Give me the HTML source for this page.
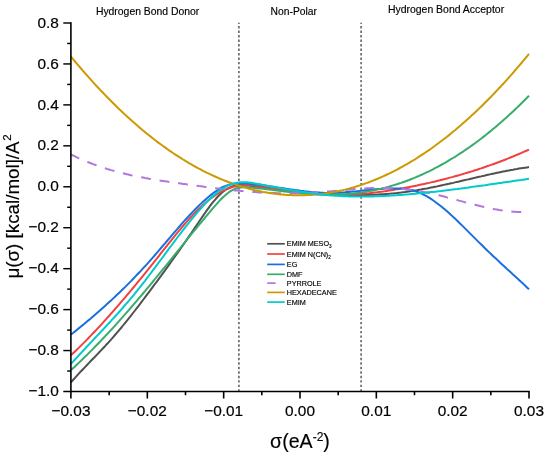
<!DOCTYPE html>
<html><head><meta charset="utf-8"><title>Sigma potential</title>
<style>html,body{margin:0;padding:0;background:#fff}svg{display:block}</style></head>
<body>
<svg width="550" height="456" viewBox="0 0 550 456">
<rect width="550" height="456" fill="#fff"/>
<line x1="238.9" y1="22.8" x2="238.9" y2="391.5" stroke="#5a5a5a" stroke-width="1.5" stroke-dasharray="2.4 2.0825" stroke-dashoffset="1.18"/>
<line x1="361.1" y1="22.8" x2="361.1" y2="391.5" stroke="#5a5a5a" stroke-width="1.5" stroke-dasharray="2.4 2.0825" stroke-dashoffset="1.18"/>
<g fill="none" stroke-width="2.0" stroke-linejoin="round">
<path d="M71.0,382.3 L73.0,380.0 L75.0,377.8 L77.0,375.6 L79.0,373.4 L81.0,371.3 L83.0,369.2 L85.0,367.1 L87.0,365.0 L89.0,362.9 L91.0,360.8 L93.0,358.7 L95.0,356.7 L97.0,354.6 L99.0,352.5 L101.0,350.4 L103.0,348.3 L105.0,346.2 L107.0,344.0 L109.0,341.8 L111.0,339.6 L113.0,337.3 L115.0,335.0 L117.0,332.7 L119.0,330.4 L121.0,328.0 L123.0,325.5 L125.0,323.1 L127.0,320.6 L129.0,318.1 L131.0,315.6 L133.0,313.0 L135.0,310.5 L137.0,307.9 L139.0,305.3 L141.0,302.7 L143.0,300.0 L145.0,297.4 L147.0,294.7 L149.0,292.1 L151.0,289.4 L153.0,286.7 L155.0,284.0 L157.0,281.3 L159.0,278.6 L161.0,275.9 L163.0,273.1 L165.0,270.4 L167.0,267.6 L169.0,264.8 L171.0,262.0 L173.0,259.2 L175.0,256.4 L177.0,253.6 L179.0,250.8 L181.0,247.9 L183.0,245.1 L185.0,242.2 L187.0,239.3 L189.0,236.4 L191.0,233.5 L193.0,230.6 L195.0,227.6 L197.0,224.7 L199.0,221.7 L201.0,218.8 L203.0,215.9 L205.0,213.0 L207.0,210.1 L209.0,207.4 L211.0,204.7 L213.0,202.2 L215.0,199.8 L217.0,197.5 L219.0,195.4 L221.0,193.5 L223.0,191.7 L225.0,190.2 L227.0,189.0 L229.0,187.9 L231.0,187.0 L233.0,186.3 L235.0,185.8 L237.0,185.5 L239.0,185.3 L241.0,185.2 L243.0,185.2 L245.0,185.2 L247.0,185.4 L249.0,185.6 L251.0,185.9 L253.0,186.2 L255.0,186.4 L257.0,186.7 L259.0,187.0 L261.0,187.3 L263.0,187.6 L265.0,187.8 L267.0,188.1 L269.0,188.4 L271.0,188.6 L273.0,188.9 L275.0,189.1 L277.0,189.4 L279.0,189.6 L281.0,189.9 L283.0,190.1 L285.0,190.4 L287.0,190.6 L289.0,190.8 L291.0,191.1 L293.0,191.3 L295.0,191.5 L297.0,191.7 L299.0,191.9 L301.0,192.1 L303.0,192.3 L305.0,192.5 L307.0,192.7 L309.0,192.9 L311.0,193.0 L313.0,193.2 L315.0,193.4 L317.0,193.5 L319.0,193.7 L321.0,193.8 L323.0,194.0 L325.0,194.1 L327.0,194.2 L329.0,194.3 L331.0,194.4 L333.0,194.5 L335.0,194.6 L337.0,194.7 L339.0,194.8 L341.0,194.8 L343.0,194.9 L345.0,195.0 L347.0,195.0 L349.0,195.0 L351.0,195.1 L353.0,195.1 L355.0,195.1 L357.0,195.1 L359.0,195.1 L361.0,195.1 L363.0,195.0 L365.0,195.0 L367.0,194.9 L369.0,194.9 L371.0,194.8 L373.0,194.7 L375.0,194.7 L377.0,194.6 L379.0,194.4 L381.0,194.3 L383.0,194.2 L385.0,194.1 L387.0,193.9 L389.0,193.7 L391.0,193.6 L393.0,193.4 L395.0,193.2 L397.0,193.0 L399.0,192.7 L401.0,192.5 L403.0,192.2 L405.0,192.0 L407.0,191.7 L409.0,191.4 L411.0,191.1 L413.0,190.8 L415.0,190.5 L417.0,190.2 L419.0,189.8 L421.0,189.5 L423.0,189.1 L425.0,188.7 L427.0,188.4 L429.0,188.0 L431.0,187.6 L433.0,187.2 L435.0,186.8 L437.0,186.4 L439.0,185.9 L441.0,185.5 L443.0,185.1 L445.0,184.6 L447.0,184.2 L449.0,183.8 L451.0,183.3 L453.0,182.9 L455.0,182.4 L457.0,181.9 L459.0,181.5 L461.0,181.0 L463.0,180.5 L465.0,180.1 L467.0,179.6 L469.0,179.2 L471.0,178.7 L473.0,178.2 L475.0,177.8 L477.0,177.3 L479.0,176.8 L481.0,176.4 L483.0,175.9 L485.0,175.5 L487.0,175.0 L489.0,174.6 L491.0,174.1 L493.0,173.7 L495.0,173.3 L497.0,172.8 L499.0,172.4 L501.0,172.0 L503.0,171.6 L505.0,171.2 L507.0,170.8 L509.0,170.4 L511.0,170.0 L513.0,169.7 L515.0,169.3 L517.0,169.0 L519.0,168.6 L521.0,168.3 L523.0,168.0 L525.0,167.7 L527.0,167.4 L529.0,167.1" stroke="#515151"/>
<path d="M71.0,355.2 L73.0,353.3 L75.0,351.4 L77.0,349.5 L79.0,347.6 L81.0,345.6 L83.0,343.6 L85.0,341.6 L87.0,339.6 L89.0,337.5 L91.0,335.4 L93.0,333.3 L95.0,331.2 L97.0,329.1 L99.0,327.0 L101.0,324.8 L103.0,322.6 L105.0,320.4 L107.0,318.2 L109.0,316.0 L111.0,313.7 L113.0,311.5 L115.0,309.2 L117.0,306.9 L119.0,304.6 L121.0,302.2 L123.0,299.9 L125.0,297.6 L127.0,295.2 L129.0,292.8 L131.0,290.4 L133.0,288.0 L135.0,285.6 L137.0,283.2 L139.0,280.7 L141.0,278.3 L143.0,275.8 L145.0,273.3 L147.0,270.8 L149.0,268.4 L151.0,265.9 L153.0,263.3 L155.0,260.8 L157.0,258.3 L159.0,255.8 L161.0,253.2 L163.0,250.7 L165.0,248.1 L167.0,245.6 L169.0,243.1 L171.0,240.6 L173.0,238.1 L175.0,235.6 L177.0,233.2 L179.0,230.8 L181.0,228.4 L183.0,226.0 L185.0,223.7 L187.0,221.4 L189.0,219.2 L191.0,217.0 L193.0,214.9 L195.0,212.8 L197.0,210.7 L199.0,208.8 L201.0,206.9 L203.0,205.0 L205.0,203.2 L207.0,201.5 L209.0,199.9 L211.0,198.3 L213.0,196.9 L215.0,195.5 L217.0,194.2 L219.0,193.0 L221.0,191.8 L223.0,190.8 L225.0,189.8 L227.0,188.9 L229.0,188.2 L231.0,187.5 L233.0,186.9 L235.0,186.4 L237.0,186.0 L239.0,185.7 L241.0,185.5 L243.0,185.3 L245.0,185.2 L247.0,185.2 L249.0,185.3 L251.0,185.4 L253.0,185.6 L255.0,185.8 L257.0,186.1 L259.0,186.3 L261.0,186.7 L263.0,187.0 L265.0,187.3 L267.0,187.7 L269.0,188.0 L271.0,188.4 L273.0,188.7 L275.0,189.1 L277.0,189.4 L279.0,189.7 L281.0,190.0 L283.0,190.3 L285.0,190.6 L287.0,190.9 L289.0,191.2 L291.0,191.4 L293.0,191.7 L295.0,191.9 L297.0,192.2 L299.0,192.4 L301.0,192.6 L303.0,192.8 L305.0,193.0 L307.0,193.2 L309.0,193.4 L311.0,193.5 L313.0,193.7 L315.0,193.8 L317.0,194.0 L319.0,194.1 L321.0,194.2 L323.0,194.3 L325.0,194.4 L327.0,194.5 L329.0,194.5 L331.0,194.6 L333.0,194.6 L335.0,194.7 L337.0,194.7 L339.0,194.7 L341.0,194.7 L343.0,194.7 L345.0,194.6 L347.0,194.6 L349.0,194.5 L351.0,194.4 L353.0,194.3 L355.0,194.2 L357.0,194.1 L359.0,194.0 L361.0,193.9 L363.0,193.7 L365.0,193.5 L367.0,193.4 L369.0,193.2 L371.0,192.9 L373.0,192.7 L375.0,192.5 L377.0,192.3 L379.0,192.0 L381.0,191.7 L383.0,191.5 L385.0,191.2 L387.0,190.9 L389.0,190.6 L391.0,190.2 L393.0,189.9 L395.0,189.6 L397.0,189.3 L399.0,188.9 L401.0,188.5 L403.0,188.2 L405.0,187.8 L407.0,187.4 L409.0,187.1 L411.0,186.7 L413.0,186.3 L415.0,185.9 L417.0,185.5 L419.0,185.0 L421.0,184.6 L423.0,184.2 L425.0,183.8 L427.0,183.3 L429.0,182.9 L431.0,182.4 L433.0,181.9 L435.0,181.5 L437.0,181.0 L439.0,180.5 L441.0,180.0 L443.0,179.5 L445.0,179.0 L447.0,178.5 L449.0,177.9 L451.0,177.4 L453.0,176.9 L455.0,176.3 L457.0,175.7 L459.0,175.2 L461.0,174.6 L463.0,174.0 L465.0,173.4 L467.0,172.8 L469.0,172.2 L471.0,171.6 L473.0,171.0 L475.0,170.3 L477.0,169.7 L479.0,169.0 L481.0,168.4 L483.0,167.7 L485.0,167.0 L487.0,166.3 L489.0,165.6 L491.0,164.9 L493.0,164.2 L495.0,163.5 L497.0,162.7 L499.0,162.0 L501.0,161.2 L503.0,160.5 L505.0,159.7 L507.0,158.9 L509.0,158.1 L511.0,157.3 L513.0,156.5 L515.0,155.6 L517.0,154.8 L519.0,154.0 L521.0,153.1 L523.0,152.2 L525.0,151.3 L527.0,150.5 L529.0,149.6" stroke="#F14040"/>
<path d="M71.0,334.5 L73.0,333.0 L75.0,331.4 L77.0,329.7 L79.0,328.1 L81.0,326.5 L83.0,324.9 L85.0,323.2 L87.0,321.5 L89.0,319.9 L91.0,318.2 L93.0,316.5 L95.0,314.7 L97.0,313.0 L99.0,311.3 L101.0,309.5 L103.0,307.7 L105.0,305.9 L107.0,304.1 L109.0,302.3 L111.0,300.5 L113.0,298.6 L115.0,296.7 L117.0,294.8 L119.0,292.9 L121.0,291.0 L123.0,289.0 L125.0,287.1 L127.0,285.1 L129.0,283.1 L131.0,281.1 L133.0,279.0 L135.0,276.9 L137.0,274.8 L139.0,272.7 L141.0,270.6 L143.0,268.4 L145.0,266.3 L147.0,264.1 L149.0,261.8 L151.0,259.6 L153.0,257.3 L155.0,255.0 L157.0,252.7 L159.0,250.4 L161.0,248.0 L163.0,245.7 L165.0,243.3 L167.0,241.0 L169.0,238.6 L171.0,236.3 L173.0,233.9 L175.0,231.6 L177.0,229.3 L179.0,227.0 L181.0,224.7 L183.0,222.4 L185.0,220.2 L187.0,218.0 L189.0,215.8 L191.0,213.7 L193.0,211.6 L195.0,209.5 L197.0,207.5 L199.0,205.5 L201.0,203.6 L203.0,201.7 L205.0,199.9 L207.0,198.2 L209.0,196.5 L211.0,194.9 L213.0,193.3 L215.0,191.9 L217.0,190.5 L219.0,189.2 L221.0,188.0 L223.0,187.0 L225.0,186.1 L227.0,185.4 L229.0,184.8 L231.0,184.3 L233.0,183.9 L235.0,183.7 L237.0,183.5 L239.0,183.4 L241.0,183.4 L243.0,183.4 L245.0,183.5 L247.0,183.6 L249.0,183.8 L251.0,184.0 L253.0,184.2 L255.0,184.4 L257.0,184.6 L259.0,184.8 L261.0,185.1 L263.0,185.4 L265.0,185.6 L267.0,185.9 L269.0,186.2 L271.0,186.5 L273.0,186.8 L275.0,187.1 L277.0,187.4 L279.0,187.7 L281.0,188.0 L283.0,188.3 L285.0,188.6 L287.0,188.9 L289.0,189.2 L291.0,189.5 L293.0,189.8 L295.0,190.1 L297.0,190.3 L299.0,190.6 L301.0,190.9 L303.0,191.1 L305.0,191.4 L307.0,191.6 L309.0,191.8 L311.0,192.0 L313.0,192.2 L315.0,192.3 L317.0,192.5 L319.0,192.6 L321.0,192.7 L323.0,192.8 L325.0,192.9 L327.0,192.9 L329.0,192.9 L331.0,192.9 L333.0,192.9 L335.0,192.8 L337.0,192.8 L339.0,192.7 L341.0,192.5 L343.0,192.4 L345.0,192.3 L347.0,192.1 L349.0,191.9 L351.0,191.8 L353.0,191.6 L355.0,191.4 L357.0,191.2 L359.0,191.0 L361.0,190.7 L363.0,190.5 L365.0,190.3 L367.0,190.1 L369.0,189.9 L371.0,189.7 L373.0,189.5 L375.0,189.3 L377.0,189.2 L379.0,189.0 L381.0,188.9 L383.0,188.7 L385.0,188.6 L387.0,188.5 L389.0,188.4 L391.0,188.4 L393.0,188.4 L395.0,188.4 L397.0,188.4 L399.0,188.5 L401.0,188.6 L403.0,188.8 L405.0,189.0 L407.0,189.3 L409.0,189.6 L411.0,190.0 L413.0,190.5 L415.0,191.1 L417.0,191.8 L419.0,192.5 L421.0,193.3 L423.0,194.3 L425.0,195.3 L427.0,196.4 L429.0,197.6 L431.0,198.9 L433.0,200.3 L435.0,201.7 L437.0,203.2 L439.0,204.7 L441.0,206.3 L443.0,207.9 L445.0,209.6 L447.0,211.3 L449.0,213.1 L451.0,214.9 L453.0,216.8 L455.0,218.6 L457.0,220.5 L459.0,222.5 L461.0,224.4 L463.0,226.4 L465.0,228.4 L467.0,230.4 L469.0,232.4 L471.0,234.4 L473.0,236.4 L475.0,238.4 L477.0,240.4 L479.0,242.4 L481.0,244.3 L483.0,246.3 L485.0,248.3 L487.0,250.2 L489.0,252.1 L491.0,254.0 L493.0,255.9 L495.0,257.8 L497.0,259.6 L499.0,261.5 L501.0,263.4 L503.0,265.2 L505.0,267.0 L507.0,268.9 L509.0,270.7 L511.0,272.5 L513.0,274.4 L515.0,276.2 L517.0,278.1 L519.0,279.9 L521.0,281.8 L523.0,283.6 L525.0,285.5 L527.0,287.4 L529.0,289.3" stroke="#1A6FDF"/>
<path d="M71.0,370.1 L73.0,368.2 L75.0,366.4 L77.0,364.5 L79.0,362.6 L81.0,360.7 L83.0,358.8 L85.0,356.8 L87.0,354.9 L89.0,352.9 L91.0,350.9 L93.0,348.9 L95.0,346.8 L97.0,344.8 L99.0,342.7 L101.0,340.6 L103.0,338.5 L105.0,336.4 L107.0,334.3 L109.0,332.1 L111.0,330.0 L113.0,327.8 L115.0,325.6 L117.0,323.4 L119.0,321.1 L121.0,318.9 L123.0,316.7 L125.0,314.4 L127.0,312.1 L129.0,309.8 L131.0,307.5 L133.0,305.2 L135.0,302.9 L137.0,300.6 L139.0,298.2 L141.0,295.8 L143.0,293.5 L145.0,291.1 L147.0,288.7 L149.0,286.3 L151.0,283.9 L153.0,281.5 L155.0,279.0 L157.0,276.6 L159.0,274.1 L161.0,271.7 L163.0,269.2 L165.0,266.8 L167.0,264.3 L169.0,261.8 L171.0,259.4 L173.0,256.9 L175.0,254.4 L177.0,252.0 L179.0,249.5 L181.0,247.0 L183.0,244.5 L185.0,242.1 L187.0,239.6 L189.0,237.2 L191.0,234.7 L193.0,232.2 L195.0,229.8 L197.0,227.4 L199.0,224.9 L201.0,222.5 L203.0,220.1 L205.0,217.7 L207.0,215.3 L209.0,212.9 L211.0,210.5 L213.0,208.2 L215.0,205.9 L217.0,203.6 L219.0,201.4 L221.0,199.3 L223.0,197.3 L225.0,195.5 L227.0,193.8 L229.0,192.2 L231.0,190.9 L233.0,189.8 L235.0,189.0 L237.0,188.3 L239.0,187.8 L241.0,187.5 L243.0,187.3 L245.0,187.2 L247.0,187.3 L249.0,187.4 L251.0,187.5 L253.0,187.7 L255.0,187.9 L257.0,188.2 L259.0,188.4 L261.0,188.6 L263.0,188.8 L265.0,189.1 L267.0,189.3 L269.0,189.6 L271.0,189.8 L273.0,190.0 L275.0,190.3 L277.0,190.5 L279.0,190.8 L281.0,191.0 L283.0,191.3 L285.0,191.5 L287.0,191.7 L289.0,192.0 L291.0,192.2 L293.0,192.4 L295.0,192.6 L297.0,192.8 L299.0,193.0 L301.0,193.2 L303.0,193.4 L305.0,193.6 L307.0,193.7 L309.0,193.9 L311.0,194.0 L313.0,194.1 L315.0,194.3 L317.0,194.4 L319.0,194.5 L321.0,194.5 L323.0,194.6 L325.0,194.7 L327.0,194.7 L329.0,194.7 L331.0,194.7 L333.0,194.7 L335.0,194.6 L337.0,194.6 L339.0,194.5 L341.0,194.4 L343.0,194.3 L345.0,194.2 L347.0,194.0 L349.0,193.9 L351.0,193.7 L353.0,193.5 L355.0,193.3 L357.0,193.0 L359.0,192.8 L361.0,192.5 L363.0,192.2 L365.0,191.9 L367.0,191.6 L369.0,191.2 L371.0,190.8 L373.0,190.4 L375.0,190.0 L377.0,189.6 L379.0,189.1 L381.0,188.7 L383.0,188.2 L385.0,187.7 L387.0,187.1 L389.0,186.6 L391.0,186.0 L393.0,185.4 L395.0,184.8 L397.0,184.2 L399.0,183.5 L401.0,182.9 L403.0,182.2 L405.0,181.5 L407.0,180.7 L409.0,180.0 L411.0,179.2 L413.0,178.4 L415.0,177.6 L417.0,176.7 L419.0,175.9 L421.0,175.0 L423.0,174.1 L425.0,173.2 L427.0,172.2 L429.0,171.3 L431.0,170.3 L433.0,169.3 L435.0,168.2 L437.0,167.2 L439.0,166.1 L441.0,165.0 L443.0,163.9 L445.0,162.8 L447.0,161.6 L449.0,160.4 L451.0,159.2 L453.0,158.0 L455.0,156.8 L457.0,155.5 L459.0,154.2 L461.0,152.9 L463.0,151.6 L465.0,150.2 L467.0,148.9 L469.0,147.5 L471.0,146.1 L473.0,144.6 L475.0,143.2 L477.0,141.7 L479.0,140.2 L481.0,138.7 L483.0,137.1 L485.0,135.6 L487.0,134.0 L489.0,132.4 L491.0,130.8 L493.0,129.1 L495.0,127.4 L497.0,125.7 L499.0,124.0 L501.0,122.3 L503.0,120.5 L505.0,118.8 L507.0,117.0 L509.0,115.1 L511.0,113.3 L513.0,111.4 L515.0,109.5 L517.0,107.6 L519.0,105.7 L521.0,103.7 L523.0,101.8 L525.0,99.8 L527.0,97.8 L529.0,95.7" stroke="#37AD6B"/>
<path d="M71.0,154.5 L73.0,155.5 L75.0,156.4 L77.0,157.4 L79.0,158.3 L81.0,159.2 L83.0,160.1 L85.0,160.9 L87.0,161.7 L89.0,162.5 L91.0,163.3 L93.0,164.1 L95.0,164.8 L97.0,165.5 L99.0,166.2 L101.0,166.9 L103.0,167.6 L105.0,168.2 L107.0,168.9 L109.0,169.5 L111.0,170.1 L113.0,170.6 L115.0,171.2 L117.0,171.7 L119.0,172.3 L121.0,172.8 L123.0,173.3 L125.0,173.8 L127.0,174.3 L129.0,174.7 L131.0,175.2 L133.0,175.6 L135.0,176.0 L137.0,176.4 L139.0,176.8 L141.0,177.2 L143.0,177.6 L145.0,178.0 L147.0,178.3 L149.0,178.7 L151.0,179.0 L153.0,179.4 L155.0,179.7 L157.0,180.0 L159.0,180.4 L161.0,180.7 L163.0,181.0 L165.0,181.3 L167.0,181.6 L169.0,181.9 L171.0,182.2 L173.0,182.5 L175.0,182.7 L177.0,183.0 L179.0,183.3 L181.0,183.6 L183.0,183.9 L185.0,184.1 L187.0,184.4 L189.0,184.7 L191.0,185.0 L193.0,185.2 L195.0,185.5 L197.0,185.8 L199.0,186.1 L201.0,186.3 L203.0,186.6 L205.0,186.9 L207.0,187.1 L209.0,187.4 L211.0,187.6 L213.0,187.9 L215.0,188.1 L217.0,188.4 L219.0,188.6 L221.0,188.8 L223.0,189.1 L225.0,189.3 L227.0,189.5 L229.0,189.8 L231.0,190.0 L233.0,190.2 L235.0,190.4 L237.0,190.6 L239.0,190.8 L241.0,191.0 L243.0,191.1 L245.0,191.3 L247.0,191.5 L249.0,191.7 L251.0,191.8 L253.0,192.0 L255.0,192.1 L257.0,192.2 L259.0,192.4 L261.0,192.5 L263.0,192.6 L265.0,192.7 L267.0,192.8 L269.0,192.9 L271.0,193.0 L273.0,193.1 L275.0,193.1 L277.0,193.2 L279.0,193.2 L281.0,193.3 L283.0,193.3 L285.0,193.3 L287.0,193.3 L289.0,193.3 L291.0,193.3 L293.0,193.3 L295.0,193.3 L297.0,193.2 L299.0,193.2 L301.0,193.1 L303.0,193.0 L305.0,192.9 L307.0,192.8 L309.0,192.7 L311.0,192.6 L313.0,192.5 L315.0,192.4 L317.0,192.3 L319.0,192.1 L321.0,192.0 L323.0,191.8 L325.0,191.7 L327.0,191.5 L329.0,191.4 L331.0,191.2 L333.0,191.1 L335.0,190.9 L337.0,190.7 L339.0,190.5 L341.0,190.4 L343.0,190.2 L345.0,190.0 L347.0,189.8 L349.0,189.7 L351.0,189.5 L353.0,189.3 L355.0,189.1 L357.0,189.0 L359.0,188.8 L361.0,188.7 L363.0,188.5 L365.0,188.4 L367.0,188.3 L369.0,188.2 L371.0,188.1 L373.0,188.0 L375.0,187.9 L377.0,187.9 L379.0,187.9 L381.0,187.9 L383.0,187.9 L385.0,187.9 L387.0,188.0 L389.0,188.0 L391.0,188.1 L393.0,188.2 L395.0,188.3 L397.0,188.5 L399.0,188.6 L401.0,188.8 L403.0,189.0 L405.0,189.2 L407.0,189.4 L409.0,189.6 L411.0,189.9 L413.0,190.2 L415.0,190.5 L417.0,190.8 L419.0,191.1 L421.0,191.5 L423.0,191.8 L425.0,192.2 L427.0,192.6 L429.0,193.0 L431.0,193.5 L433.0,193.9 L435.0,194.4 L437.0,194.8 L439.0,195.3 L441.0,195.8 L443.0,196.3 L445.0,196.8 L447.0,197.4 L449.0,197.9 L451.0,198.4 L453.0,198.9 L455.0,199.5 L457.0,200.0 L459.0,200.6 L461.0,201.1 L463.0,201.6 L465.0,202.2 L467.0,202.7 L469.0,203.2 L471.0,203.8 L473.0,204.3 L475.0,204.8 L477.0,205.3 L479.0,205.8 L481.0,206.3 L483.0,206.7 L485.0,207.2 L487.0,207.6 L489.0,208.1 L491.0,208.5 L493.0,208.9 L495.0,209.3 L497.0,209.6 L499.0,210.0 L501.0,210.3 L503.0,210.6 L505.0,210.8 L507.0,211.1 L509.0,211.3 L511.0,211.5 L513.0,211.7 L515.0,211.8 L517.0,211.9 L519.0,212.0 L521.0,212.1 L523.0,212.1 L525.0,212.1 L527.0,212.0 L529.0,211.9" stroke="#B177DE" stroke-dasharray="9.91 8.79" stroke-dashoffset="0.81"/>
<path d="M71.0,56.6 L73.0,59.1 L75.0,61.5 L77.0,63.8 L79.0,66.2 L81.0,68.5 L83.0,70.9 L85.0,73.2 L87.0,75.4 L89.0,77.7 L91.0,79.9 L93.0,82.1 L95.0,84.3 L97.0,86.5 L99.0,88.6 L101.0,90.7 L103.0,92.8 L105.0,94.9 L107.0,97.0 L109.0,99.0 L111.0,101.0 L113.0,103.0 L115.0,105.0 L117.0,107.0 L119.0,108.9 L121.0,110.8 L123.0,112.7 L125.0,114.6 L127.0,116.4 L129.0,118.2 L131.0,120.0 L133.0,121.8 L135.0,123.6 L137.0,125.3 L139.0,127.1 L141.0,128.7 L143.0,130.4 L145.0,132.1 L147.0,133.7 L149.0,135.3 L151.0,136.9 L153.0,138.5 L155.0,140.0 L157.0,141.6 L159.0,143.1 L161.0,144.5 L163.0,146.0 L165.0,147.4 L167.0,148.9 L169.0,150.3 L171.0,151.6 L173.0,153.0 L175.0,154.3 L177.0,155.6 L179.0,156.9 L181.0,158.2 L183.0,159.5 L185.0,160.7 L187.0,161.9 L189.0,163.1 L191.0,164.2 L193.0,165.4 L195.0,166.5 L197.0,167.6 L199.0,168.7 L201.0,169.7 L203.0,170.8 L205.0,171.8 L207.0,172.8 L209.0,173.7 L211.0,174.7 L213.0,175.6 L215.0,176.5 L217.0,177.4 L219.0,178.3 L221.0,179.1 L223.0,179.9 L225.0,180.7 L227.0,181.5 L229.0,182.3 L231.0,183.0 L233.0,183.7 L235.0,184.4 L237.0,185.1 L239.0,185.7 L241.0,186.4 L243.0,187.0 L245.0,187.6 L247.0,188.1 L249.0,188.7 L251.0,189.2 L253.0,189.7 L255.0,190.2 L257.0,190.6 L259.0,191.1 L261.0,191.5 L263.0,191.9 L265.0,192.2 L267.0,192.6 L269.0,192.9 L271.0,193.2 L273.0,193.5 L275.0,193.8 L277.0,194.0 L279.0,194.2 L281.0,194.4 L283.0,194.6 L285.0,194.8 L287.0,194.9 L289.0,195.0 L291.0,195.1 L293.0,195.2 L295.0,195.3 L297.0,195.3 L299.0,195.3 L301.0,195.3 L303.0,195.3 L305.0,195.2 L307.0,195.1 L309.0,195.0 L311.0,194.9 L313.0,194.8 L315.0,194.6 L317.0,194.4 L319.0,194.2 L321.0,194.0 L323.0,193.7 L325.0,193.5 L327.0,193.2 L329.0,192.9 L331.0,192.5 L333.0,192.2 L335.0,191.8 L337.0,191.4 L339.0,191.0 L341.0,190.6 L343.0,190.1 L345.0,189.6 L347.0,189.1 L349.0,188.6 L351.0,188.0 L353.0,187.5 L355.0,186.9 L357.0,186.3 L359.0,185.6 L361.0,185.0 L363.0,184.3 L365.0,183.6 L367.0,182.9 L369.0,182.2 L371.0,181.4 L373.0,180.6 L375.0,179.8 L377.0,179.0 L379.0,178.1 L381.0,177.3 L383.0,176.4 L385.0,175.5 L387.0,174.5 L389.0,173.6 L391.0,172.6 L393.0,171.6 L395.0,170.6 L397.0,169.6 L399.0,168.5 L401.0,167.4 L403.0,166.3 L405.0,165.2 L407.0,164.1 L409.0,162.9 L411.0,161.7 L413.0,160.5 L415.0,159.3 L417.0,158.0 L419.0,156.7 L421.0,155.4 L423.0,154.1 L425.0,152.8 L427.0,151.4 L429.0,150.1 L431.0,148.7 L433.0,147.2 L435.0,145.8 L437.0,144.3 L439.0,142.8 L441.0,141.3 L443.0,139.8 L445.0,138.2 L447.0,136.7 L449.0,135.1 L451.0,133.5 L453.0,131.8 L455.0,130.2 L457.0,128.5 L459.0,126.8 L461.0,125.1 L463.0,123.3 L465.0,121.6 L467.0,119.8 L469.0,118.0 L471.0,116.1 L473.0,114.3 L475.0,112.4 L477.0,110.5 L479.0,108.6 L481.0,106.7 L483.0,104.7 L485.0,102.7 L487.0,100.7 L489.0,98.7 L491.0,96.7 L493.0,94.6 L495.0,92.5 L497.0,90.4 L499.0,88.3 L501.0,86.2 L503.0,84.0 L505.0,81.8 L507.0,79.6 L509.0,77.3 L511.0,75.1 L513.0,72.8 L515.0,70.5 L517.0,68.2 L519.0,65.8 L521.0,63.5 L523.0,61.1 L525.0,58.7 L527.0,56.3 L529.0,53.8" stroke="#CC9900"/>
<path d="M71.0,363.9 L73.0,361.7 L75.0,359.5 L77.0,357.3 L79.0,355.1 L81.0,353.0 L83.0,350.8 L85.0,348.7 L87.0,346.5 L89.0,344.4 L91.0,342.3 L93.0,340.1 L95.0,338.0 L97.0,335.9 L99.0,333.8 L101.0,331.6 L103.0,329.5 L105.0,327.3 L107.0,325.2 L109.0,323.0 L111.0,320.9 L113.0,318.7 L115.0,316.5 L117.0,314.3 L119.0,312.0 L121.0,309.8 L123.0,307.5 L125.0,305.2 L127.0,302.9 L129.0,300.6 L131.0,298.2 L133.0,295.8 L135.0,293.4 L137.0,290.9 L139.0,288.4 L141.0,285.9 L143.0,283.3 L145.0,280.8 L147.0,278.1 L149.0,275.5 L151.0,272.9 L153.0,270.2 L155.0,267.6 L157.0,264.9 L159.0,262.2 L161.0,259.5 L163.0,256.8 L165.0,254.1 L167.0,251.4 L169.0,248.7 L171.0,246.0 L173.0,243.4 L175.0,240.7 L177.0,238.0 L179.0,235.4 L181.0,232.8 L183.0,230.2 L185.0,227.6 L187.0,225.1 L189.0,222.6 L191.0,220.1 L193.0,217.7 L195.0,215.3 L197.0,212.9 L199.0,210.6 L201.0,208.3 L203.0,206.1 L205.0,203.9 L207.0,201.8 L209.0,199.8 L211.0,197.9 L213.0,196.1 L215.0,194.3 L217.0,192.7 L219.0,191.1 L221.0,189.7 L223.0,188.4 L225.0,187.2 L227.0,186.1 L229.0,185.2 L231.0,184.4 L233.0,183.7 L235.0,183.2 L237.0,182.8 L239.0,182.5 L241.0,182.3 L243.0,182.2 L245.0,182.2 L247.0,182.3 L249.0,182.5 L251.0,182.8 L253.0,183.1 L255.0,183.4 L257.0,183.8 L259.0,184.1 L261.0,184.5 L263.0,184.9 L265.0,185.3 L267.0,185.7 L269.0,186.1 L271.0,186.4 L273.0,186.8 L275.0,187.2 L277.0,187.6 L279.0,187.9 L281.0,188.3 L283.0,188.7 L285.0,189.0 L287.0,189.4 L289.0,189.7 L291.0,190.1 L293.0,190.4 L295.0,190.8 L297.0,191.1 L299.0,191.4 L301.0,191.7 L303.0,192.0 L305.0,192.3 L307.0,192.6 L309.0,192.9 L311.0,193.2 L313.0,193.5 L315.0,193.7 L317.0,194.0 L319.0,194.2 L321.0,194.4 L323.0,194.7 L325.0,194.9 L327.0,195.0 L329.0,195.2 L331.0,195.4 L333.0,195.6 L335.0,195.7 L337.0,195.8 L339.0,196.0 L341.0,196.1 L343.0,196.2 L345.0,196.2 L347.0,196.3 L349.0,196.4 L351.0,196.4 L353.0,196.5 L355.0,196.5 L357.0,196.5 L359.0,196.5 L361.0,196.6 L363.0,196.5 L365.0,196.5 L367.0,196.5 L369.0,196.5 L371.0,196.4 L373.0,196.4 L375.0,196.3 L377.0,196.3 L379.0,196.2 L381.0,196.1 L383.0,196.0 L385.0,195.9 L387.0,195.8 L389.0,195.7 L391.0,195.6 L393.0,195.5 L395.0,195.3 L397.0,195.2 L399.0,195.0 L401.0,194.9 L403.0,194.7 L405.0,194.6 L407.0,194.4 L409.0,194.3 L411.0,194.1 L413.0,193.9 L415.0,193.7 L417.0,193.5 L419.0,193.3 L421.0,193.1 L423.0,192.9 L425.0,192.7 L427.0,192.5 L429.0,192.3 L431.0,192.1 L433.0,191.9 L435.0,191.7 L437.0,191.4 L439.0,191.2 L441.0,191.0 L443.0,190.7 L445.0,190.5 L447.0,190.2 L449.0,190.0 L451.0,189.8 L453.0,189.5 L455.0,189.2 L457.0,189.0 L459.0,188.7 L461.0,188.5 L463.0,188.2 L465.0,187.9 L467.0,187.7 L469.0,187.4 L471.0,187.1 L473.0,186.8 L475.0,186.6 L477.0,186.3 L479.0,186.0 L481.0,185.7 L483.0,185.4 L485.0,185.2 L487.0,184.9 L489.0,184.6 L491.0,184.3 L493.0,184.0 L495.0,183.7 L497.0,183.4 L499.0,183.1 L501.0,182.9 L503.0,182.6 L505.0,182.3 L507.0,182.0 L509.0,181.7 L511.0,181.4 L513.0,181.1 L515.0,180.8 L517.0,180.5 L519.0,180.2 L521.0,180.0 L523.0,179.7 L525.0,179.4 L527.0,179.1 L529.0,178.8" stroke="#00CBCC"/>
</g>
<g stroke="#000" fill="none">
<line x1="70.9" y1="22.2" x2="70.9" y2="398.5" stroke-width="1.6"/>
<line x1="63.3" y1="391.5" x2="529.8" y2="391.5" stroke-width="1.45"/>
<line x1="63.3" y1="23.00" x2="71" y2="23.00" stroke-width="1.45"/>
<line x1="67.2" y1="43.47" x2="71" y2="43.47" stroke-width="1.45"/>
<line x1="63.3" y1="63.94" x2="71" y2="63.94" stroke-width="1.45"/>
<line x1="67.2" y1="84.42" x2="71" y2="84.42" stroke-width="1.45"/>
<line x1="63.3" y1="104.89" x2="71" y2="104.89" stroke-width="1.45"/>
<line x1="67.2" y1="125.36" x2="71" y2="125.36" stroke-width="1.45"/>
<line x1="63.3" y1="145.83" x2="71" y2="145.83" stroke-width="1.45"/>
<line x1="67.2" y1="166.31" x2="71" y2="166.31" stroke-width="1.45"/>
<line x1="63.3" y1="186.78" x2="71" y2="186.78" stroke-width="1.45"/>
<line x1="67.2" y1="207.25" x2="71" y2="207.25" stroke-width="1.45"/>
<line x1="63.3" y1="227.72" x2="71" y2="227.72" stroke-width="1.45"/>
<line x1="67.2" y1="248.19" x2="71" y2="248.19" stroke-width="1.45"/>
<line x1="63.3" y1="268.67" x2="71" y2="268.67" stroke-width="1.45"/>
<line x1="67.2" y1="289.14" x2="71" y2="289.14" stroke-width="1.45"/>
<line x1="63.3" y1="309.61" x2="71" y2="309.61" stroke-width="1.45"/>
<line x1="67.2" y1="330.08" x2="71" y2="330.08" stroke-width="1.45"/>
<line x1="63.3" y1="350.56" x2="71" y2="350.56" stroke-width="1.45"/>
<line x1="67.2" y1="371.03" x2="71" y2="371.03" stroke-width="1.45"/>
<line x1="109.17" y1="391.5" x2="109.17" y2="395.2" stroke-width="1.6"/>
<line x1="147.33" y1="391.5" x2="147.33" y2="398.5" stroke-width="1.6"/>
<line x1="185.50" y1="391.5" x2="185.50" y2="395.2" stroke-width="1.6"/>
<line x1="223.67" y1="391.5" x2="223.67" y2="398.5" stroke-width="1.6"/>
<line x1="261.83" y1="391.5" x2="261.83" y2="395.2" stroke-width="1.6"/>
<line x1="300.00" y1="391.5" x2="300.00" y2="398.5" stroke-width="1.6"/>
<line x1="338.17" y1="391.5" x2="338.17" y2="395.2" stroke-width="1.6"/>
<line x1="376.33" y1="391.5" x2="376.33" y2="398.5" stroke-width="1.6"/>
<line x1="414.50" y1="391.5" x2="414.50" y2="395.2" stroke-width="1.6"/>
<line x1="452.67" y1="391.5" x2="452.67" y2="398.5" stroke-width="1.6"/>
<line x1="490.83" y1="391.5" x2="490.83" y2="395.2" stroke-width="1.6"/>
<line x1="529.00" y1="391.5" x2="529.00" y2="398.5" stroke-width="1.6"/>
</g>
<g font-family="'Liberation Sans', Arial, sans-serif" font-size="15.4" fill="#000" stroke="#000" stroke-width="0.2">
<text x="58.8" y="27.6" text-anchor="end">0.8</text>
<text x="58.8" y="68.5" text-anchor="end">0.6</text>
<text x="58.8" y="109.5" text-anchor="end">0.4</text>
<text x="58.8" y="150.4" text-anchor="end">0.2</text>
<text x="58.8" y="191.4" text-anchor="end">0.0</text>
<text x="58.8" y="232.3" text-anchor="end">−0.2</text>
<text x="58.8" y="273.3" text-anchor="end">−0.4</text>
<text x="58.8" y="314.2" text-anchor="end">−0.6</text>
<text x="58.8" y="355.2" text-anchor="end">−0.8</text>
<text x="58.8" y="396.1" text-anchor="end">−1.0</text>
<text x="71.0" y="416.4" text-anchor="middle">−0.03</text>
<text x="147.3" y="416.4" text-anchor="middle">−0.02</text>
<text x="223.7" y="416.4" text-anchor="middle">−0.01</text>
<text x="300.0" y="416.4" text-anchor="middle">0.00</text>
<text x="376.3" y="416.4" text-anchor="middle">0.01</text>
<text x="452.7" y="416.4" text-anchor="middle">0.02</text>
<text x="529.0" y="416.4" text-anchor="middle">0.03</text>
</g>
<g font-family="'Liberation Sans', Arial, sans-serif" fill="#000" stroke="#000" stroke-width="0.15">
<text x="300" y="447.8" font-size="19.6" text-anchor="middle">σ(eA<tspan font-size="12" dy="-7.3">-2</tspan><tspan dy="7.3">)</tspan></text>
<text transform="translate(19.3,206.5) rotate(-90)" font-size="18.8" text-anchor="middle">μ(σ) [kcal/mol]/A<tspan font-size="11.5" dy="-8" dx="0.6">2</tspan></text>
<text x="95.9" y="15.3" font-size="10.4">Hydrogen Bond Donor</text>
<text x="270.6" y="15.3" font-size="10.3">Non-Polar</text>
<text x="387.9" y="12.8" font-size="10.46">Hydrogen Bond Acceptor</text>
</g>
<g font-family="'Liberation Sans', Arial, sans-serif" font-size="7.25" fill="#000" stroke="#000" stroke-width="0.15">
<line x1="267.2" y1="243.8" x2="284.8" y2="243.8" stroke="#515151" stroke-width="1.7"/>
<text x="286.8" y="246.4">EMIM MESO<tspan font-size="4.6" dy="1.9">3</tspan></text>
<line x1="267.2" y1="254.0" x2="284.8" y2="254.0" stroke="#F14040" stroke-width="1.7"/>
<text x="286.8" y="256.6">EMIM N(CN)<tspan font-size="4.6" dy="1.9">2</tspan></text>
<line x1="267.2" y1="264.4" x2="284.8" y2="264.4" stroke="#1A6FDF" stroke-width="1.7"/>
<text x="286.8" y="267.0">EG</text>
<line x1="267.2" y1="274.3" x2="284.8" y2="274.3" stroke="#37AD6B" stroke-width="1.7"/>
<text x="286.8" y="276.9">DMF</text>
<line x1="267.2" y1="283.1" x2="275.6" y2="283.1" stroke="#B177DE" stroke-width="1.7"/>
<text x="286.8" y="285.7">PYRROLE</text>
<line x1="267.2" y1="292.4" x2="284.8" y2="292.4" stroke="#CC9900" stroke-width="1.7"/>
<text x="286.8" y="295.0">HEXADECANE</text>
<line x1="267.2" y1="302.1" x2="284.8" y2="302.1" stroke="#00CBCC" stroke-width="1.7"/>
<text x="286.8" y="304.7">EMIM</text>
</g>
</svg>
</body></html>
